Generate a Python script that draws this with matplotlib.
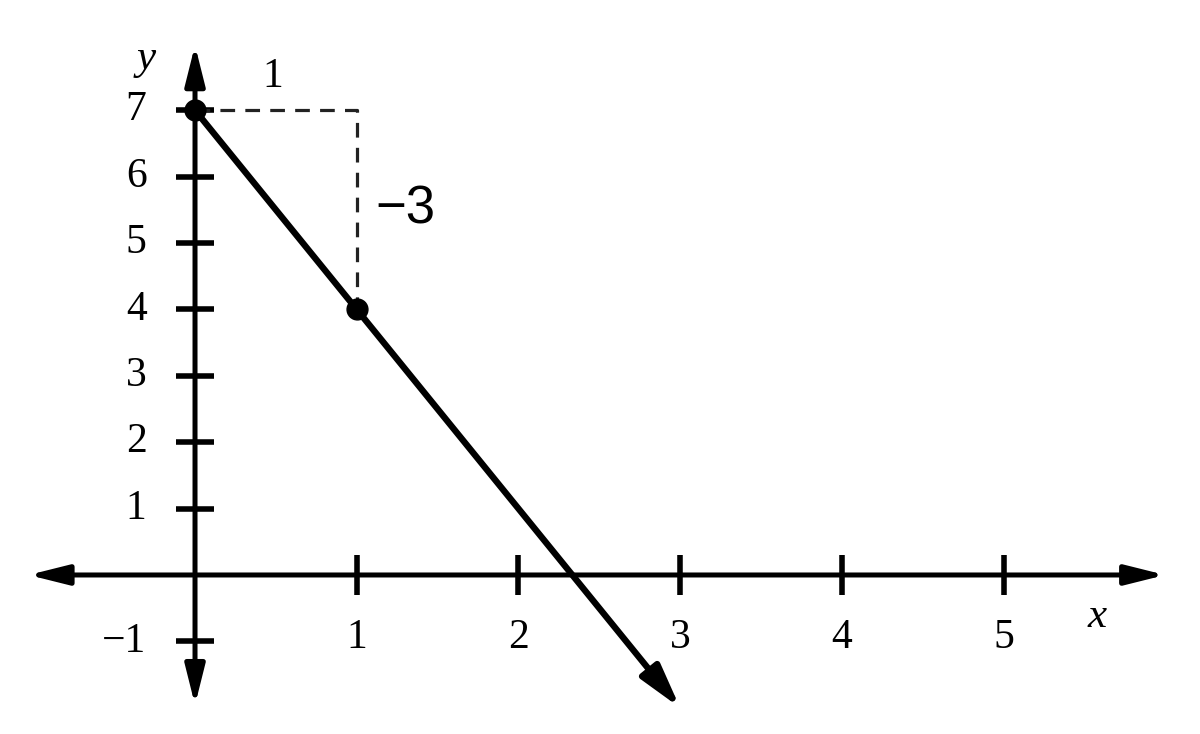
import matplotlib.pyplot as plt

# line y = 7 - 3x, drawn with an arrow to the end point
line_x = [0, 3]
line_y = [7, -2]
# marked points and the rise/run triangle
point_x = [0, 1]
point_y = [7, 4]
run_label = '1'
rise_label = '\u22123'

x_ticks = [1, 2, 3, 4, 5]
y_ticks = [-1, 1, 2, 3, 4, 5, 6, 7]
x_axis_range = [-1.03, 6.0]
y_axis_range = [-1.96, 7.98]

serif = 'Liberation Serif'

fig = plt.figure(figsize=(12, 7.34), dpi=100)
ax = fig.add_axes([0, 0, 1, 1])
ax.set_xlim(-1.206, 6.215)
ax.set_ylim(-2.395, 8.66)
ax.axis('off')

axis_arrow = dict(arrowstyle='<|-|>,head_length=1.2,head_width=0.3', color='black',
                  lw=3.6, shrinkA=0, shrinkB=0, mutation_scale=20)
ax.annotate('', xy=(x_axis_range[1], 0), xytext=(x_axis_range[0], 0), arrowprops=axis_arrow)
ax.annotate('', xy=(0, y_axis_range[1]), xytext=(0, y_axis_range[0]), arrowprops=axis_arrow)

# ticks
for t in x_ticks:
    ax.plot([t, t], [-0.3, 0.3], color='black', lw=4, solid_capstyle='butt')
    ax.text(t, -0.95, str(t), ha='center', va='center', fontsize=30, family=serif)
for t in y_ticks:
    ax.plot([-0.12, 0.12], [t, t], color='black', lw=4, solid_capstyle='butt')
    lab = '\u2212' + str(-t) if t < 0 else str(t)
    ax.text(-0.3, t, lab, ha='right', va='center', fontsize=30, family=serif)

ax.text(x_axis_range[1] - 0.42, -0.63, 'x', ha='center', va='center', fontsize=31,
        family=serif, style='italic')
ax.text(-0.3, y_axis_range[1] - 0.2, 'y', ha='center', va='center', fontsize=31,
        family=serif, style='italic')

# rise / run dashed triangle
ax.plot([point_x[0], point_x[1], point_x[1]], [point_y[0], point_y[0], point_y[1]],
        color='#222222', lw=2.3, ls=(0, (4.6, 3.2)))
ax.text(0.48, 7.5, run_label, ha='center', va='center', fontsize=30, family=serif)
ax.text(1.3, 5.5, rise_label, ha='center', va='center', fontsize=38, family='Liberation Sans')

# the line with arrow
ax.annotate('', xy=(line_x[1], line_y[1]), xytext=(line_x[0], line_y[0]),
            arrowprops=dict(arrowstyle='-|>,head_length=1.3,head_width=0.35', color='black',
                            lw=4.6, shrinkA=0, shrinkB=0, mutation_scale=20))
ax.plot(point_x, point_y, 'o', color='black', markersize=15)

fig.savefig('out.png', dpi=100, facecolor='white')
